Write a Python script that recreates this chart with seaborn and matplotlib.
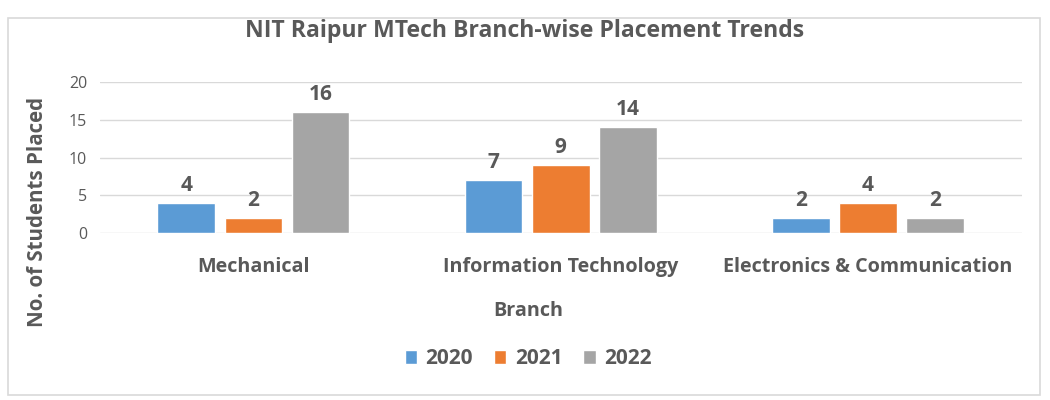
import pandas as pd
import numpy as np
import matplotlib.pyplot as plt
import seaborn as sns
from matplotlib.patches import Rectangle

# Chart data
branches = ["Mechanical", "Information Technology", "Electronics & Communication"]
years = ["2020", "2021", "2022"]
placed_2020 = [4, 7, 2]
placed_2021 = [2, 9, 4]
placed_2022 = [16, 14, 2]

colors = ["#5B9BD5", "#ED7D31", "#A5A5A5"]
text_col = "#595959"

df = pd.DataFrame({
    "Branch": branches * 3,
    "Year": [y for y in years for _ in branches],
    "Placed": placed_2020 + placed_2021 + placed_2022,
})

sns.set_style("white")
plt.rcParams["font.family"] = ["Open Sans", "DejaVu Sans"]

fig = plt.figure(figsize=(10.5, 4), dpi=100)
ax = fig.add_axes([0.095, 0.4175, 0.878, 0.3775])

sns.barplot(data=df, x="Branch", y="Placed", hue="Year", palette=colors,
            width=0.655, gap=0.14, saturation=1, ax=ax, legend=True)

for cont in ax.containers:
    ax.bar_label(cont, padding=5, fontsize=15, fontweight="bold", color=text_col)

ax.set_ylim(0, 20)
ax.set_yticks([0, 5, 10, 15, 20])
ax.yaxis.grid(True, color="#D9D9D9", linewidth=1)
ax.set_axisbelow(True)
for s in ax.spines.values():
    s.set_visible(False)
ax.tick_params(axis="y", length=0, labelsize=11.5, labelcolor=text_col, pad=9)
ax.tick_params(axis="x", length=0, labelsize=14.2, labelcolor=text_col, pad=17)
for lbl in ax.get_xticklabels():
    lbl.set_fontweight("bold")
ax.set_xlabel("")
ax.set_ylabel("")

fig.text(0.5, 0.923, "NIT Raipur MTech Branch-wise Placement Trends", ha="center", va="center",
         fontsize=16.6, fontweight="bold", color=text_col)
fig.text(0.503, 0.222, "Branch", ha="center", va="center", fontsize=14.2,
         fontweight="bold", color=text_col)
fig.text(0.036, 0.47, "No. of Students Placed", ha="center", va="center", rotation=90,
         fontsize=14.8, fontweight="bold", color=text_col)

handles, labels = ax.get_legend_handles_labels()
ax.get_legend().remove()
fig.legend(handles, labels, loc="center", bbox_to_anchor=(0.503, 0.103), ncol=3, frameon=False,
           prop={"weight": "bold", "size": 15}, handlelength=0.6, handleheight=0.6,
           columnspacing=1.0, handletextpad=0.4, labelcolor=text_col)

# chart frame
fig.patches.append(Rectangle((0.008, 0.012), 0.982, 0.943, transform=fig.transFigure,
                             fill=False, edgecolor="#D9D9D9", linewidth=1.2))

fig.savefig("out.png", dpi=100)
